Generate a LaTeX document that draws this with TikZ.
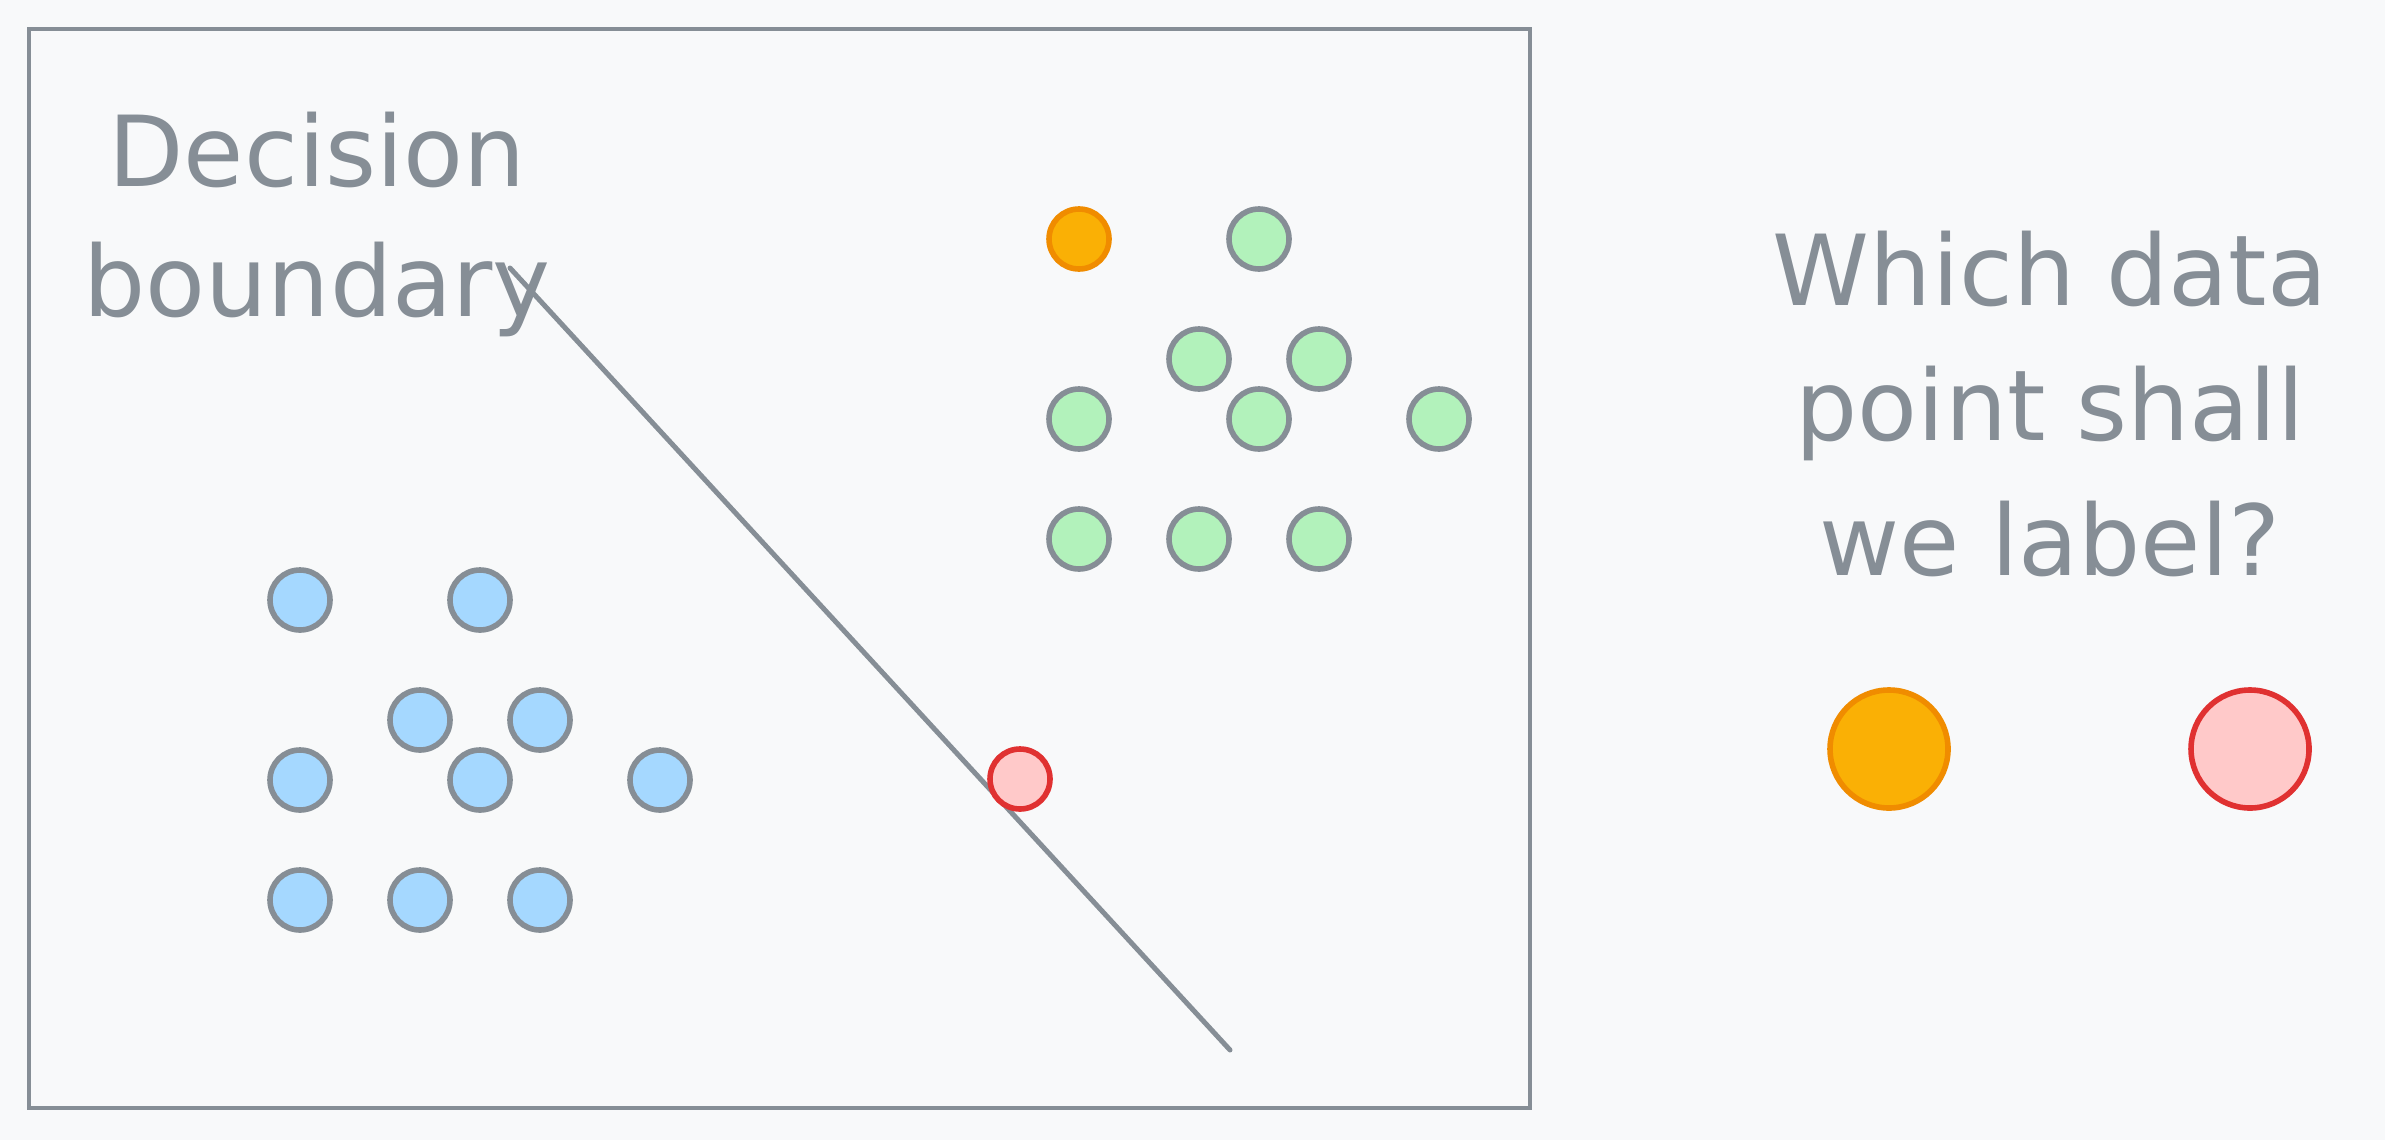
\documentclass[tikz,border=0pt]{standalone}
\usepackage{fontspec}
\setmainfont{DejaVu Sans}
\definecolor{bg}{HTML}{F8F9FA}
\definecolor{ink}{HTML}{868E96}
\definecolor{bluefill}{HTML}{A5D8FF}
\definecolor{greenfill}{HTML}{B2F2BB}
\definecolor{orangefill}{HTML}{FAB005}
\definecolor{orangeline}{HTML}{F08C00}
\definecolor{redfill}{HTML}{FFC9C9}
\definecolor{redline}{HTML}{E03131}
\tikzset{
  dot/.style={circle, inner sep=0pt, minimum size=30pt, line width=2.8pt},
  bluedot/.style={dot, draw=ink, fill=bluefill},
  greendot/.style={dot, draw=ink, fill=greenfill},
  orangedot/.style={dot, draw=orangeline, fill=orangefill},
  reddot/.style={dot, draw=redline, fill=redfill},
  bigdot/.style={minimum size=59pt},
  hand/.style={text=ink, align=center, inner sep=0pt,
    font=\fontsize{49}{65}\selectfont},
  handr/.style={text=ink, align=center, inner sep=0pt,
    font=\fontsize{49}{67.5}\selectfont}
}
\begin{document}
\begin{tikzpicture}[x=0.5pt,y=-0.5pt]
\fill[bg] (0,0) rectangle (2385,1140);
\useasboundingbox (0,0) rectangle (2385,1140);
\node[draw=ink, line width=1.7pt, minimum width=750.5pt, minimum height=539.5pt, inner sep=0pt] (frame) at (779.5,568.5) {};
% decision boundary
\coordinate (b1) at (510,268);
\coordinate (b2) at (1230,1050);
\draw[ink, line width=2.5pt, line cap=round] (b1) -- (b2);
% blue cluster
\node[bluedot] (u1) at (300,600) {};
\node[bluedot] (u2) at (480,600) {};
\node[bluedot] (u3) at (420,720) {};
\node[bluedot] (u4) at (540,720) {};
\node[bluedot] (u5) at (300,780) {};
\node[bluedot] (u6) at (480,780) {};
\node[bluedot] (u7) at (660,780) {};
\node[bluedot] (u8) at (300,900) {};
\node[bluedot] (u9) at (420,900) {};
\node[bluedot] (u10) at (540,900) {};
% green cluster
\node[orangedot] (o1) at (1079,239) {};
\node[greendot] (g2) at (1259,239) {};
\node[greendot] (g3) at (1199,359) {};
\node[greendot] (g4) at (1319,359) {};
\node[greendot] (g5) at (1079,419) {};
\node[greendot] (g6) at (1259,419) {};
\node[greendot] (g7) at (1439,419) {};
\node[greendot] (g8) at (1079,539) {};
\node[greendot] (g9) at (1199,539) {};
\node[greendot] (g10) at (1319,539) {};
% red point near boundary
\node[reddot] (r1) at (1020,779) {};
% candidates
\node[orangedot, bigdot] (bo) at (1889,749) {};
\node[reddot, bigdot] (br) at (2250,749) {};
% texts
\node[hand, anchor=base] (t1) at (317,316) {Decision\\boundary};
\node[handr, anchor=base] (t2) at (2050,575) {Which data\\point shall\\we label?};
\end{tikzpicture}
\end{document}
